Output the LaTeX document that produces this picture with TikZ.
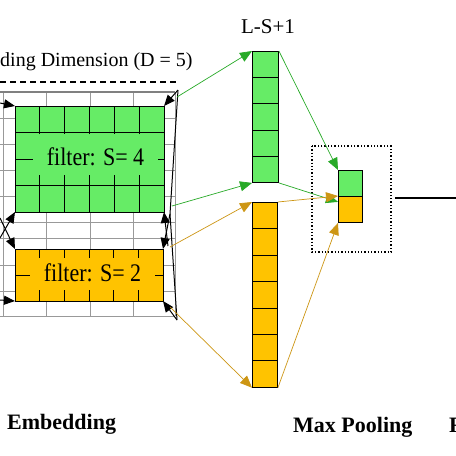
\documentclass[tikz,border=0pt]{standalone}
\usepackage{fontspec}
\setmainfont{Liberation Serif}
\usetikzlibrary{arrows.meta}
\definecolor{fgreen}{RGB}{102,236,102}
\definecolor{forange}{RGB}{255,195,0}
\definecolor{lgreen}{RGB}{40,170,40}
\definecolor{lorange}{RGB}{205,150,20}
\tikzset{
  gridline/.style={draw=gray!80, line width=0.8pt},
  cellline/.style={draw=black, line width=0.9pt},
  garrow/.style={draw=lgreen, line width=0.7pt, -{Triangle[length=12pt,width=10pt,fill=lgreen]}},
  oarrow/.style={draw=lorange, line width=0.7pt, -{Triangle[length=12pt,width=10pt,fill=lorange]}},
  barrow/.style={draw=black, line width=1pt, -{Triangle[length=11pt,width=9pt]}},
  bline/.style={draw=black, line width=1pt},
  lbl/.style={inner sep=0pt, font=\fontsize{22}{24}\selectfont},
  bold/.style={inner sep=0pt, font=\fontsize{22}{24}\selectfont\bfseries},
}
\begin{document}
\begin{tikzpicture}[x=1pt,y=-1pt]
\useasboundingbox (0,0) rectangle (456,456);
\clip (0,0) rectangle (456,456);
\fill[white] (0,0) rectangle (456,456);
% embedding grid
\foreach \x in {3,46.5,90,133,175} \draw[gridline] (\x,92) -- (\x,316);
\foreach \y in {118,144,170,196,222,238.5,265,291.5,316} \draw[gridline] (0,\y) -- (175,\y);
\draw[draw=gray, line width=1.6pt] (0,92) -- (175,92);
% green filter
\fill[fgreen] (15,106) rectangle (164,212);
\foreach \x in {39.8,64.7,89.5,114.3,139.2} \draw[cellline] (\x,106) -- (\x,212);
\foreach \y in {132.5,159,185.5} \draw[cellline] (15,\y) -- (164,\y);
\draw[cellline] (15,106) rectangle (164,212);
\node[lbl, fill=fgreen, minimum width=125pt, minimum height=41pt, anchor=north west] (f4) at (33,134) {};
\node[lbl] (f4t) at (95.5,157) {\scalebox{1}[1.15]{filter: S= 4}};
% orange filter
\fill[forange] (15,249) rectangle (163,301);
\foreach \x in {39.7,64.3,89,113.7,138.3} \draw[cellline] (\x,249) -- (\x,301);
\draw[cellline] (15,275) -- (163,275);
\draw[cellline] (15,249) rectangle (163,301);
\node[lbl, fill=forange, minimum width=125pt, minimum height=32pt, anchor=north west] (f2) at (30,258) {};
\node[lbl] (f2t) at (92.5,273) {\scalebox{1}[1.15]{filter: S= 2}};
\coordinate (gTL) at (15,106);
\coordinate (gTR) at (164,106);
\coordinate (gBL) at (15,212);
\coordinate (gBR) at (164,212);
\coordinate (oTL) at (15,249);
\coordinate (oTR) at (163,249);
\coordinate (oBL) at (15,301);
\coordinate (oBR) at (163,301);
% dimension label
\node[lbl, font=\fontsize{20}{22}\selectfont, anchor=base west] (dim) at (0,66) {ding Dimension (D = 5)};
\draw[black, line width=1.2pt, dash pattern=on 6pt off 4pt] (0,82) -- (178,82);
% black arrows
\coordinate (l1) at (0,103);
\coordinate (l2) at (0,238);
\coordinate (l3) at (0,218);
\coordinate (l4) at (0,300);
\draw[barrow] (l1) -- (gTL);
\draw[barrow] (l2) -- (gBL);
\draw[barrow] (l3) -- (oTL);
\draw[barrow] (l4) -- (oBL);
\coordinate (r1) at (178,90);
\coordinate (r2) at (170,214);
\coordinate (r3) at (168,246);
\coordinate (r4) at (177,320);
\draw[barrow] (r1) -- (gTR);
\draw[bline] (r1) -- (r2);
\draw[barrow] (r3) -- (gBR);
\draw[barrow] (r2) -- (oTR);
\draw[bline] (r2) -- (r4);
\draw[barrow] (r4) -- (oBR);
% L-S+1
\node[lbl, font=\fontsize{21}{23}\selectfont] (ls) at (268,27) {L-S+1};
% columns
\foreach \i in {0,...,4} \node[cellline, fill=fgreen, minimum width=26pt, minimum height=26.2pt, inner sep=0pt, anchor=north west] (gc\i) at (252,51+26.2*\i) {};
\foreach \i in {0,...,6} \node[cellline, fill=forange, minimum width=25pt, minimum height=26.4pt, inner sep=0pt, anchor=north west] (oc\i) at (252,202+26.4*\i) {};
% pooling
\draw[black, line width=1.3pt, dotted] (312,146) rectangle (391,252);
\node[cellline, fill=fgreen, minimum width=24pt, minimum height=26pt, inner sep=0pt, anchor=north west] (pg) at (338,170) {};
\node[cellline, fill=forange, minimum width=24pt, minimum height=26pt, inner sep=0pt, anchor=north west] (po) at (338,196) {};
\coordinate (out) at (456,198);
\draw[black, line width=1.3pt] (395,198) -- (out);
% colored connectors
\coordinate (e1) at (177,97);
\coordinate (e2) at (172,206);
\coordinate (e3) at (170,247);
\coordinate (e4) at (170,307);
\draw[garrow] (e1) -- (gc0.north west);
\draw[garrow] (e2) -- (gc4.south west);
\draw[oarrow] (e3) -- (oc0.north west);
\draw[oarrow] (e4) -- (oc6.south west);
\draw[garrow] (gc0.north east) -- (pg.north west);
\draw[garrow] (gc4.south east) -- ([yshift=-5pt]pg.south west);
\draw[oarrow] (oc0.north east) -- (po.north west);
\draw[oarrow] (oc6.south east) -- (po.south west);
% labels
\node[bold, anchor=base west] (emb) at (7,429) {Embedding};
\node[bold, anchor=base west] (mp) at (293,432) {Max Pooling};
\node[bold, anchor=base west] (fc) at (449,432) {F};
\end{tikzpicture}
\end{document}
